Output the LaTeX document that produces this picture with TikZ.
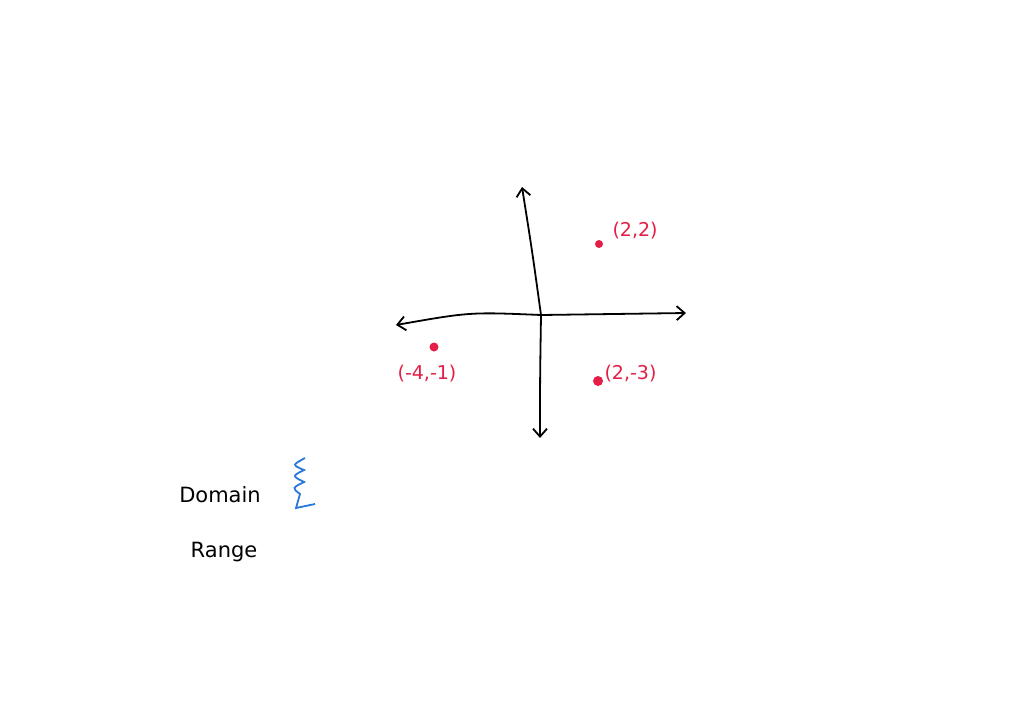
\documentclass[tikz,border=0pt]{standalone}
\usepackage{fontspec}
\usetikzlibrary{arrows.meta}
\setmainfont{DejaVu Sans}
\begin{document}
\begin{tikzpicture}[x=1pt,y=-1pt,
  ax/.style={line width=1.8pt,black,-{Straight Barb[length=8pt,width=14pt]}},
  pt/.style={circle,fill=pred,inner sep=0pt,minimum size=9pt},
  lbl/.style={text=pred,font=\fontsize{19}{22}\selectfont},
  word/.style={font=\fontsize{21}{24}\selectfont}]
\definecolor{pred}{RGB}{228,30,70}
\definecolor{pblue}{RGB}{40,120,220}
\useasboundingbox (0,0) rectangle (1024,712);
\fill[white] (0,0) rectangle (1024,712);
\coordinate (o) at (541,315);
\coordinate (l) at (396,325);
\coordinate (r) at (686,313);
\coordinate (t) at (522,187);
\coordinate (b) at (540,438);
\draw[ax] (o) .. controls (470,312) .. (l);
\draw[ax] (o) -- (r);
\draw[ax] (o) .. controls (532,250) .. (t);
\draw[ax] (o) .. controls (540,380) .. (b);
\node[pt,minimum size=8pt] (p1) at (599,244) {};
\node[pt] (p2) at (434,347) {};
\node[pt,minimum size=10pt] (p3) at (598,381) {};
\node[lbl,anchor=west] (l1) at (609,231) {(2,2)};
\node[lbl] (l2) at (427,374) {(-4,-1)};
\node[lbl,anchor=west] (l3) at (601,374) {(2,-3)};
\node[word] (d) at (220,495) {Domain};
\node[word] (rg) at (224,552) {Range};
\draw[pblue,line width=1.8pt] (305,458) .. controls (292,465) .. (304,470) .. controls (292,476) .. (304,482) .. controls (292,488) .. (300,494) -- (296,508) -- (315,504);
\end{tikzpicture}
\end{document}
